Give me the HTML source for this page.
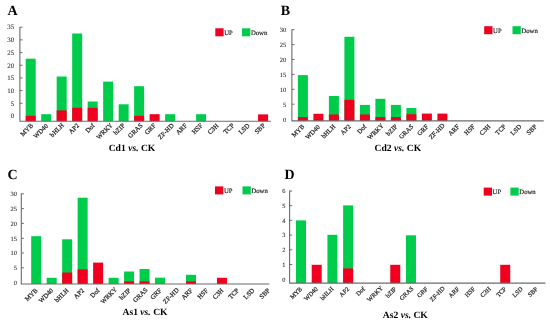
<!DOCTYPE html>
<html><head><meta charset="utf-8"><style>
html,body{margin:0;padding:0;background:#fff;}
body{width:550px;height:321px;overflow:hidden;}
svg{display:block;}
text{font-family:"Liberation Serif","Times New Roman",serif;text-rendering:geometricPrecision;}
.tk{fill:#2a2a2a;stroke:#2a2a2a;stroke-width:0.08px;text-anchor:end;}
.xl{fill:#1a1a1a;stroke:#1a1a1a;stroke-width:0.2px;text-anchor:end;}
.lt{font-size:14px;font-weight:bold;fill:#000;}
.tt{font-size:9.6px;font-weight:bold;fill:#000;}
.lg{font-size:6.7px;fill:#1a1a1a;stroke:#1a1a1a;stroke-width:0.15px;}
</style></head><body>
<svg width="550" height="321" viewBox="0 0 550 321">
<rect width="550" height="321" fill="#fff"/>
<rect x="25.7" y="58.7" width="10" height="62.5" fill="#00cc4c"/>
<rect x="25.7" y="115.8" width="10" height="5.4" fill="#f0001e"/>
<rect x="41.19" y="114.2" width="10" height="7" fill="#00cc4c"/>
<rect x="56.68" y="76.5" width="10" height="44.7" fill="#00cc4c"/>
<rect x="56.68" y="110.4" width="10" height="10.8" fill="#f0001e"/>
<rect x="72.17" y="33.5" width="10" height="87.7" fill="#00cc4c"/>
<rect x="72.17" y="107.8" width="10" height="13.4" fill="#f0001e"/>
<rect x="87.66" y="101.5" width="10" height="19.7" fill="#00cc4c"/>
<rect x="87.66" y="107.8" width="10" height="13.4" fill="#f0001e"/>
<rect x="103.15" y="81.6" width="10" height="39.6" fill="#00cc4c"/>
<rect x="118.64" y="104.3" width="10" height="16.9" fill="#00cc4c"/>
<rect x="134.13" y="86.2" width="10" height="35" fill="#00cc4c"/>
<rect x="134.13" y="115.8" width="10" height="5.4" fill="#f0001e"/>
<rect x="149.62" y="114.2" width="10" height="7" fill="#f0001e"/>
<rect x="165.11" y="114.2" width="10" height="7" fill="#00cc4c"/>
<rect x="196.09" y="114.2" width="10" height="7" fill="#00cc4c"/>
<rect x="258.05" y="114.4" width="10" height="6.8" fill="#f0001e"/>
<path d="M19.9 27V121.2H270.9" stroke="#6c6c6c" stroke-width="1.1" fill="none"/>
<path d="M19.9 27.2H22.5" stroke="#6c6c6c" stroke-width="1"/>
<text x="14.1" y="29.48" class="tk" font-size="6.9">35</text>
<path d="M19.9 39.88H22.5" stroke="#6c6c6c" stroke-width="1"/>
<text x="14.1" y="42.16" class="tk" font-size="6.9">30</text>
<path d="M19.9 52.56H22.5" stroke="#6c6c6c" stroke-width="1"/>
<text x="14.1" y="54.84" class="tk" font-size="6.9">25</text>
<path d="M19.9 65.24H22.5" stroke="#6c6c6c" stroke-width="1"/>
<text x="14.1" y="67.52" class="tk" font-size="6.9">20</text>
<path d="M19.9 77.92H22.5" stroke="#6c6c6c" stroke-width="1"/>
<text x="14.1" y="80.2" class="tk" font-size="6.9">15</text>
<path d="M19.9 90.6H22.5" stroke="#6c6c6c" stroke-width="1"/>
<text x="14.1" y="92.88" class="tk" font-size="6.9">10</text>
<path d="M19.9 103.28H22.5" stroke="#6c6c6c" stroke-width="1"/>
<text x="14.1" y="105.56" class="tk" font-size="6.9">5</text>
<text x="14.1" y="118.24" class="tk" font-size="6.9">0</text>
<text class="xl" font-size="6.6" transform="translate(33.6 126) rotate(-45)">MYB</text>
<text class="xl" font-size="6.6" transform="translate(48.49 126.4) rotate(-45)">WD40</text>
<text class="xl" font-size="6.6" transform="translate(64.48 125.5) rotate(-45)">bHLH</text>
<text class="xl" font-size="6.6" transform="translate(79.67 126) rotate(-45)">AP2</text>
<text class="xl" font-size="6.6" transform="translate(95.16 126) rotate(-45)">Dof</text>
<text class="xl" font-size="6.6" transform="translate(113.15 125.5) rotate(-45)">WRKY</text>
<text class="xl" font-size="6.6" transform="translate(125.34 126) rotate(-45)">bZIP</text>
<text class="xl" font-size="6.6" transform="translate(143.03 126) rotate(-45)">GRAS</text>
<text class="xl" font-size="6.6" transform="translate(156.32 126) rotate(-45)">GRF</text>
<text class="xl" font-size="6.6" transform="translate(174.31 126) rotate(-45)">ZF-HD</text>
<text class="xl" font-size="6.6" transform="translate(187.5 126) rotate(-45)">ARF</text>
<text class="xl" font-size="6.6" transform="translate(202.99 126) rotate(-45)">HSF</text>
<text class="xl" font-size="6.6" transform="translate(219.08 126) rotate(-45)">C3H</text>
<text class="xl" font-size="6.6" transform="translate(234.57 126) rotate(-45)">TCP</text>
<text class="xl" font-size="6.6" transform="translate(250.06 126) rotate(-45)">LSD</text>
<text class="xl" font-size="6.6" transform="translate(265.55 126) rotate(-45)">SBP</text>
<text x="7.6" y="15" class="lt">A</text>
<text x="108.7" y="150.9" class="tt">Cd1 <tspan font-style="italic">vs.</tspan> CK</text>
<rect x="215.3" y="28.3" width="8.3" height="8" fill="#f0001e"/>
<text x="224.2" y="35" class="lg">UP</text>
<rect x="242" y="28.3" width="8.3" height="8" fill="#00cc4c"/>
<text x="250.9" y="35" class="lg">Down</text>
<rect x="297.9" y="75.1" width="10" height="45.8" fill="#00cc4c"/>
<rect x="297.9" y="117.1" width="10" height="3.8" fill="#f0001e"/>
<rect x="313.4" y="113.8" width="10" height="7.1" fill="#f0001e"/>
<rect x="328.9" y="96" width="10" height="24.9" fill="#00cc4c"/>
<rect x="328.9" y="114.5" width="10" height="6.4" fill="#f0001e"/>
<rect x="344.4" y="36.8" width="10" height="84.1" fill="#00cc4c"/>
<rect x="344.4" y="99.8" width="10" height="21.1" fill="#f0001e"/>
<rect x="359.9" y="104.9" width="10" height="16" fill="#00cc4c"/>
<rect x="359.9" y="114.5" width="10" height="6.4" fill="#f0001e"/>
<rect x="375.4" y="98.8" width="10" height="22.1" fill="#00cc4c"/>
<rect x="375.4" y="117.1" width="10" height="3.8" fill="#f0001e"/>
<rect x="390.9" y="104.9" width="10" height="16" fill="#00cc4c"/>
<rect x="390.9" y="117.1" width="10" height="3.8" fill="#f0001e"/>
<rect x="406.4" y="108" width="10" height="12.9" fill="#00cc4c"/>
<rect x="406.4" y="114.2" width="10" height="6.7" fill="#f0001e"/>
<rect x="421.9" y="113.6" width="10" height="7.3" fill="#f0001e"/>
<rect x="437.4" y="113.6" width="10" height="7.3" fill="#f0001e"/>
<path d="M291.9 29.5V120.9H543.7" stroke="#6c6c6c" stroke-width="1.1" fill="none"/>
<path d="M291.9 29.7H294.5" stroke="#6c6c6c" stroke-width="1"/>
<text x="286.3" y="32.45" class="tk" font-size="6.5">30</text>
<path d="M291.9 44.6H294.5" stroke="#6c6c6c" stroke-width="1"/>
<text x="286.3" y="47.35" class="tk" font-size="6.5">25</text>
<path d="M291.9 59.5H294.5" stroke="#6c6c6c" stroke-width="1"/>
<text x="286.3" y="62.25" class="tk" font-size="6.5">20</text>
<path d="M291.9 74.4H294.5" stroke="#6c6c6c" stroke-width="1"/>
<text x="286.3" y="77.14" class="tk" font-size="6.5">15</text>
<path d="M291.9 89.3H294.5" stroke="#6c6c6c" stroke-width="1"/>
<text x="286.3" y="92.04" class="tk" font-size="6.5">10</text>
<path d="M291.9 104.2H294.5" stroke="#6c6c6c" stroke-width="1"/>
<text x="286.3" y="106.94" class="tk" font-size="6.5">5</text>
<text x="286.3" y="121.84" class="tk" font-size="6.5">0</text>
<text class="xl" font-size="6.5" transform="translate(304.8 127) rotate(-45)">MYB</text>
<text class="xl" font-size="6.5" transform="translate(320.3 127.5) rotate(-45)">WD40</text>
<text class="xl" font-size="6.5" transform="translate(335.8 127) rotate(-45)">bHLH</text>
<text class="xl" font-size="6.5" transform="translate(351.3 127) rotate(-45)">AP2</text>
<text class="xl" font-size="6.5" transform="translate(366.8 127) rotate(-45)">Dof</text>
<text class="xl" font-size="6.5" transform="translate(384.1 126) rotate(-45)">WRKY</text>
<text class="xl" font-size="6.5" transform="translate(397.8 127) rotate(-45)">bZIP</text>
<text class="xl" font-size="6.5" transform="translate(413.8 127) rotate(-45)">GRAS</text>
<text class="xl" font-size="6.5" transform="translate(428.8 127) rotate(-45)">GRF</text>
<text class="xl" font-size="6.5" transform="translate(445.1 126) rotate(-45)">ZF-HD</text>
<text class="xl" font-size="6.5" transform="translate(459.8 127) rotate(-45)">ARF</text>
<text class="xl" font-size="6.5" transform="translate(475.3 127) rotate(-45)">HSF</text>
<text class="xl" font-size="6.5" transform="translate(490.8 127) rotate(-45)">C3H</text>
<text class="xl" font-size="6.5" transform="translate(506.3 127) rotate(-45)">TCP</text>
<text class="xl" font-size="6.5" transform="translate(521.8 127) rotate(-45)">LSD</text>
<text class="xl" font-size="6.5" transform="translate(537.3 127) rotate(-45)">SBP</text>
<text x="280.7" y="14.8" class="lt">B</text>
<text x="374.5" y="150.7" class="tt">Cd2 <tspan font-style="italic">vs.</tspan> CK</text>
<rect x="484.2" y="26.2" width="8.3" height="8" fill="#f0001e"/>
<text x="493.1" y="32.9" class="lg">UP</text>
<rect x="512.5" y="26.2" width="8.3" height="8" fill="#00cc4c"/>
<text x="521.4" y="32.9" class="lg">Down</text>
<rect x="31.2" y="236.2" width="10" height="47.8" fill="#00cc4c"/>
<rect x="46.68" y="277.8" width="10" height="6.2" fill="#00cc4c"/>
<rect x="62.16" y="239.3" width="10" height="44.7" fill="#00cc4c"/>
<rect x="62.16" y="272.5" width="10" height="11.5" fill="#f0001e"/>
<rect x="77.64" y="197.7" width="10" height="86.3" fill="#00cc4c"/>
<rect x="77.64" y="269.4" width="10" height="14.6" fill="#f0001e"/>
<rect x="93.12" y="262.6" width="10" height="21.4" fill="#f0001e"/>
<rect x="108.6" y="277.8" width="10" height="6.2" fill="#00cc4c"/>
<rect x="124.08" y="271.5" width="10" height="12.5" fill="#00cc4c"/>
<rect x="124.08" y="281.4" width="10" height="2.6" fill="#f0001e"/>
<rect x="139.56" y="269" width="10" height="15" fill="#00cc4c"/>
<rect x="139.56" y="281.4" width="10" height="2.6" fill="#f0001e"/>
<rect x="155.04" y="277.7" width="10" height="6.3" fill="#00cc4c"/>
<rect x="186" y="274.8" width="10" height="9.2" fill="#00cc4c"/>
<rect x="186" y="281.4" width="10" height="2.6" fill="#f0001e"/>
<rect x="216.96" y="277.8" width="10" height="6.2" fill="#f0001e"/>
<path d="M21.3 193.5V284H269.4" stroke="#6c6c6c" stroke-width="1.1" fill="none"/>
<path d="M21.3 193.8H23.9" stroke="#6c6c6c" stroke-width="1"/>
<text x="16.9" y="196.25" class="tk" font-size="6.5">30</text>
<path d="M21.3 208.6H23.9" stroke="#6c6c6c" stroke-width="1"/>
<text x="16.9" y="211.05" class="tk" font-size="6.5">25</text>
<path d="M21.3 223.4H23.9" stroke="#6c6c6c" stroke-width="1"/>
<text x="16.9" y="225.85" class="tk" font-size="6.5">20</text>
<path d="M21.3 238.3H23.9" stroke="#6c6c6c" stroke-width="1"/>
<text x="16.9" y="240.75" class="tk" font-size="6.5">15</text>
<path d="M21.3 253H23.9" stroke="#6c6c6c" stroke-width="1"/>
<text x="16.9" y="255.45" class="tk" font-size="6.5">10</text>
<path d="M21.3 267.8H23.9" stroke="#6c6c6c" stroke-width="1"/>
<text x="16.9" y="270.25" class="tk" font-size="6.5">5</text>
<text x="16.9" y="285.14" class="tk" font-size="6.5">0</text>
<text class="xl" font-size="6.6" transform="translate(38.2 290.9) rotate(-45)">MYB</text>
<text class="xl" font-size="6.6" transform="translate(53.68 290.9) rotate(-45)">WD40</text>
<text class="xl" font-size="6.6" transform="translate(69.16 290.9) rotate(-45)">bHLH</text>
<text class="xl" font-size="6.6" transform="translate(84.64 290.9) rotate(-45)">AP2</text>
<text class="xl" font-size="6.6" transform="translate(100.12 290.9) rotate(-45)">Dof</text>
<text class="xl" font-size="6.6" transform="translate(117.4 289.9) rotate(-45)">WRKY</text>
<text class="xl" font-size="6.6" transform="translate(131.08 290.9) rotate(-45)">bZIP</text>
<text class="xl" font-size="6.6" transform="translate(148.06 290.4) rotate(-45)">GRAS</text>
<text class="xl" font-size="6.6" transform="translate(162.04 290.9) rotate(-45)">GRF</text>
<text class="xl" font-size="6.6" transform="translate(179.32 290.4) rotate(-45)">ZF-HD</text>
<text class="xl" font-size="6.6" transform="translate(193 290.9) rotate(-45)">ARF</text>
<text class="xl" font-size="6.6" transform="translate(208.48 290.9) rotate(-45)">HSF</text>
<text class="xl" font-size="6.6" transform="translate(223.96 290.9) rotate(-45)">C3H</text>
<text class="xl" font-size="6.6" transform="translate(239.44 290.9) rotate(-45)">TCP</text>
<text class="xl" font-size="6.6" transform="translate(254.92 290.9) rotate(-45)">LSD</text>
<text class="xl" font-size="6.6" transform="translate(270.4 290.9) rotate(-45)">SBP</text>
<text x="7.6" y="179.3" class="lt">C</text>
<text x="122.5" y="314.9" class="tt">As1 <tspan font-style="italic">vs.</tspan> CK</text>
<rect x="215" y="186.4" width="8.3" height="8" fill="#f0001e"/>
<text x="223.9" y="193.1" class="lg">UP</text>
<rect x="242.5" y="186.4" width="8.3" height="8" fill="#00cc4c"/>
<text x="251.4" y="193.1" class="lg">Down</text>
<rect x="296" y="220.4" width="10" height="62.7" fill="#00cc4c"/>
<rect x="311.71" y="264.8" width="10" height="18.3" fill="#f0001e"/>
<rect x="327.42" y="234.8" width="10" height="48.3" fill="#00cc4c"/>
<rect x="343.13" y="205.4" width="10" height="77.7" fill="#00cc4c"/>
<rect x="343.13" y="268.4" width="10" height="14.7" fill="#f0001e"/>
<rect x="390.26" y="264.8" width="10" height="18.3" fill="#f0001e"/>
<rect x="405.97" y="235.3" width="10" height="47.8" fill="#00cc4c"/>
<rect x="500.23" y="264.8" width="10" height="18.3" fill="#f0001e"/>
<path d="M289.6 190.5V283.1H545.5" stroke="#6c6c6c" stroke-width="1.1" fill="none"/>
<path d="M289.6 191H292.2" stroke="#6c6c6c" stroke-width="1"/>
<text x="285.5" y="193.38" class="tk" font-size="6.3">6</text>
<path d="M289.6 205.7H292.2" stroke="#6c6c6c" stroke-width="1"/>
<text x="285.5" y="208.08" class="tk" font-size="6.3">5</text>
<path d="M289.6 220.4H292.2" stroke="#6c6c6c" stroke-width="1"/>
<text x="285.5" y="222.78" class="tk" font-size="6.3">4</text>
<path d="M289.6 235.1H292.2" stroke="#6c6c6c" stroke-width="1"/>
<text x="285.5" y="237.48" class="tk" font-size="6.3">3</text>
<path d="M289.6 249.8H292.2" stroke="#6c6c6c" stroke-width="1"/>
<text x="285.5" y="252.18" class="tk" font-size="6.3">2</text>
<path d="M289.6 264.5H292.2" stroke="#6c6c6c" stroke-width="1"/>
<text x="285.5" y="266.88" class="tk" font-size="6.3">1</text>
<text x="285.5" y="281.68" class="tk" font-size="6.3">0</text>
<text class="xl" font-size="6.3" transform="translate(302.6 289.4) rotate(-45)">MYB</text>
<text class="xl" font-size="6.3" transform="translate(318.31 289.4) rotate(-45)">WD40</text>
<text class="xl" font-size="6.3" transform="translate(334.02 289.4) rotate(-45)">bHLH</text>
<text class="xl" font-size="6.3" transform="translate(349.73 289.4) rotate(-45)">AP2</text>
<text class="xl" font-size="6.3" transform="translate(365.44 289.4) rotate(-45)">Dof</text>
<text class="xl" font-size="6.3" transform="translate(383.15 288.6) rotate(-45)">WRKY</text>
<text class="xl" font-size="6.3" transform="translate(396.86 289.4) rotate(-45)">bZIP</text>
<text class="xl" font-size="6.3" transform="translate(413.87 288.9) rotate(-45)">GRAS</text>
<text class="xl" font-size="6.3" transform="translate(428.28 289.4) rotate(-45)">GRF</text>
<text class="xl" font-size="6.3" transform="translate(445.29 288.9) rotate(-45)">ZF-HD</text>
<text class="xl" font-size="6.3" transform="translate(459.7 289.4) rotate(-45)">ARF</text>
<text class="xl" font-size="6.3" transform="translate(475.41 289.4) rotate(-45)">HSF</text>
<text class="xl" font-size="6.3" transform="translate(491.12 289.4) rotate(-45)">C3H</text>
<text class="xl" font-size="6.3" transform="translate(506.83 289.4) rotate(-45)">TCP</text>
<text class="xl" font-size="6.3" transform="translate(523.14 289.4) rotate(-45)">LSD</text>
<text class="xl" font-size="6.3" transform="translate(538.25 289.4) rotate(-45)">SBP</text>
<text x="284.5" y="179" class="lt">D</text>
<text x="382.8" y="317.5" class="tt">As2 <tspan font-style="italic">vs.</tspan> CK</text>
<rect x="483.7" y="187.6" width="8.3" height="8" fill="#f0001e"/>
<text x="492.6" y="194.3" class="lg">UP</text>
<rect x="510.4" y="187.6" width="8.3" height="8" fill="#00cc4c"/>
<text x="519.3" y="194.3" class="lg">Down</text>
</svg>
</body></html>
